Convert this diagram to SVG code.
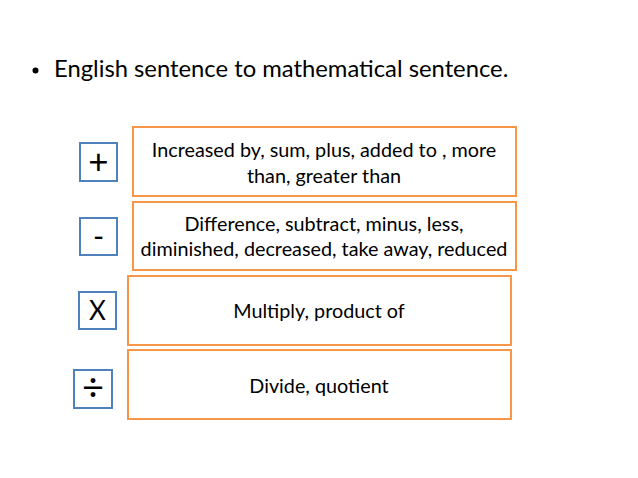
<svg xmlns="http://www.w3.org/2000/svg" width="638" height="478" viewBox="0 0 638 478">
<style>
.t{font-family:Lato,"Liberation Sans",sans-serif;fill:#000}
.title{font-size:23.8px}
.body{font-size:19.8px;text-anchor:middle}
.sym{font-size:29px;text-anchor:middle}
.ob{fill:#fff;stroke:#F79646;stroke-width:2}
.bb{fill:#fff;stroke:#4F81BD;stroke-width:2}
</style>
<rect width="638" height="478" fill="#fff"/>
<g id="title">
<circle cx="35.5" cy="70.5" r="3" fill="#000"/>
<text class="t title" x="54" y="77">English sentence to mathematical sentence.</text>
</g>
<g id="connectors"></g>
<g id="plus-sym"><rect class="bb" x="80" y="143" width="37" height="38"/><text class="t sym" x="98.5" y="174" style="font-size:35px">+</text></g>
<g id="minus-sym"><rect class="bb" x="80" y="218" width="37" height="37"/><text class="t sym" x="98.5" y="247" style="font-size:30px">-</text></g>
<g id="times-sym"><rect class="bb" x="79" y="292" width="37" height="37"/><text class="t sym" x="97.5" y="320" style="font-size:26px">X</text></g>
<g id="div-sym"><rect class="bb" x="74" y="370" width="38" height="38"/><text class="t sym" x="93" y="401" style="font-size:38px">÷</text></g>
<g id="add-box"><rect class="ob" x="133" y="127" width="383" height="69"/>
<text class="t body" x="324" y="157">Increased by, sum, plus, added to , more</text>
<text class="t body" x="324" y="183">than, greater than</text></g>
<g id="sub-box"><rect class="ob" x="133" y="202" width="383" height="68"/>
<text class="t body" x="324" y="231">Difference, subtract, minus, less,</text>
<text class="t body" x="324" y="256">diminished, decreased, take away, reduced</text></g>
<g id="mul-box"><rect class="ob" x="128" y="276" width="383" height="69"/>
<text class="t body" x="319" y="318">Multiply, product of</text></g>
<g id="div-box"><rect class="ob" x="128" y="350" width="383" height="69"/>
<text class="t body" x="319" y="393">Divide, quotient</text></g>
</svg>
